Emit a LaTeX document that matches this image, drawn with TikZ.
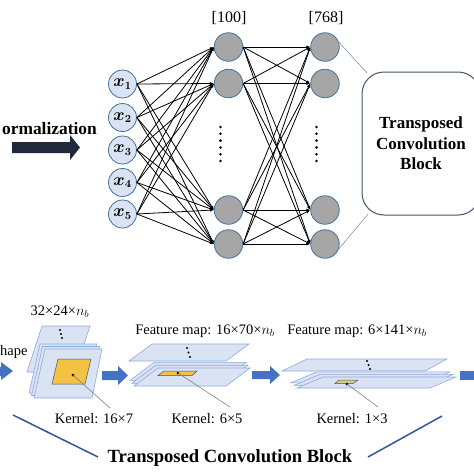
\documentclass[tikz,border=0pt]{standalone}
\usepackage{fontspec}
\setmainfont{Liberation Serif}
\usetikzlibrary{arrows.meta,calc}
\definecolor{inpfill}{HTML}{DAE3F3}
\definecolor{nodeedge}{HTML}{41719C}
\definecolor{hidfill}{HTML}{A6A6A6}
\definecolor{planefill}{HTML}{DAE3F3}
\definecolor{planeedge}{HTML}{8FAADC}
\definecolor{blockblue}{HTML}{4472C4}
\definecolor{darkarrow}{HTML}{1F2A3C}
\definecolor{boxedge}{HTML}{44546A}
\definecolor{kernfill}{HTML}{F4C243}
\definecolor{kernfilltwo}{HTML}{D8CB8E}
\definecolor{lineblue}{HTML}{2F55A4}
\definecolor{leadgray}{HTML}{808080}
\definecolor{boxlink}{HTML}{8497B0}
\tikzset{
  inp/.style={circle,draw=nodeedge,fill=inpfill,line width=0.8pt,minimum size=28pt,inner sep=0pt,font=\fontsize{16}{16}\selectfont\boldmath},
  hid/.style={circle,draw=nodeedge,fill=hidfill,line width=0.8pt,minimum size=28.5pt,inner sep=0pt},
  conn/.style={line width=0.8pt,-{Latex[length=4pt,width=3.2pt]}},
  plane/.style={fill=planefill,draw=planeedge,line width=0.6pt},
  kern/.style={fill=kernfill,draw=boxedge,line width=0.5pt},
  lbl/.style={font=\fontsize{14.5}{16}\selectfont,inner sep=0pt},
  lead/.style={draw=leadgray,line width=0.6pt},
  vdot/.style={fill=black},
}
\begin{document}
\begin{tikzpicture}[x=1pt,y=-1pt]
\useasboundingbox (0,0) rectangle (474,474);

% --- top: normalization arrow
\node[font=\fontsize{17.4}{18}\selectfont\bfseries,anchor=east,inner sep=0pt] (norm) at (97,129) {ormalization};
\fill[darkarrow] (12,142) -- (70,142) -- (70,135) -- (80,147.5) -- (70,160) -- (70,153) -- (12,153) -- cycle;

% --- input nodes
\foreach \i/\y in {1/84,2/117.5,3/150,4/182.5,5/214}
  \node[inp] (x\i) at (122.5,\y) {$x_{\i}$};

% --- hidden layers
\foreach \j/\y in {1/47,2/83.5,3/210,4/244}{
  \node[hid] (a\j) at (228.5,\y) {};
  \node[hid] (b\j) at (325,\y) {};
}
\node[font=\fontsize{16}{16}\selectfont,inner sep=0pt] (l100) at (229,18) {[100]};
\node[font=\fontsize{16}{16}\selectfont,inner sep=0pt] (l768) at (326,18) {[768]};

\foreach \i in {1,...,6}{
  \fill[vdot] (220.5,127+6.8*\i-6.8) circle[radius=1.4pt];
  \fill[vdot] (316.5,127+6.8*\i-6.8) circle[radius=1.4pt];
}

% --- connections
\foreach \i in {1,...,5}
  \foreach \j in {1,...,4}
    \draw[conn] (x\i.east) -- (a\j.west);
\foreach \i in {1,...,4}
  \foreach \j in {1,...,4}
    \draw[conn] (a\i.east) -- (b\j.west);

% --- transposed convolution block box
\node[draw=boxedge,line width=1pt,rounded corners=22pt,minimum width=118pt,minimum height=143pt,inner sep=0pt,align=center,
      font=\fontsize{17}{20.5}\selectfont\bfseries] (tcb) at (421,143.5) {Transposed\\Convolution\\Block};
\coordinate (c1) at (367,73);
\coordinate (c2) at (368,214);
\draw[draw=boxlink,line width=0.6pt] (b1.20) -- (c1);
\draw[draw=boxlink,line width=0.6pt] (b4.-20) -- (c2);

% --- bottom row
\node[lbl,anchor=west] (reshape) at (0,352) {hape};
\fill[blockblue] (-10,367) -- (1,367) -- (1,362) -- (13,371) -- (1,380) -- (1,376) -- (-10,376) -- cycle;

% stack 1
\node[lbl] (fm1) at (60,312) {32×24×$n_b$};
\filldraw[plane] (27,372) -- (75,372) -- (90,326) -- (42,326) -- cycle;
\fill[vdot] (60,330) circle[radius=1.2pt];
\fill[vdot] (61,334) circle[radius=1.2pt];
\fill[vdot] (62,338) circle[radius=1.2pt];
\foreach \d in {2,1,0}
  \filldraw[plane,shift={(-2.5*\d,-2.5*\d)}] (34,398) -- (92,398) -- (102,349) -- (45,349) -- cycle;
\filldraw[kern] (52,384) -- (85,384) -- (91,359) -- (58,359) -- cycle;
\coordinate (k1) at (73,375);
\fill (k1) circle[radius=1.5pt];
\node[lbl] (kl1) at (94,419) {Kernel: 16×7};
\coordinate (k1e) at (110,408);
\draw[lead] (k1) -- (k1e);

\fill[blockblue] (102,371) -- (118,371) -- (118,366) -- (128,375.5) -- (118,385) -- (118,380) -- (102,380) -- cycle;

% stack 2
\node[lbl] (fm2) at (205,331) {Feature map: 16×70×$n_b$};
\filldraw[plane] (129,361) -- (226,361) -- (249,344) -- (152,344) -- cycle;
\fill[vdot] (187,348) circle[radius=1.2pt];
\fill[vdot] (188.5,352.5) circle[radius=1.2pt];
\fill[vdot] (190,357) circle[radius=1.2pt];
\foreach \d in {2,1,0}
  \filldraw[plane,shift={(-2*\d,-2.8*\d)}] (134,386) -- (226,386) -- (250,368) -- (158,368) -- cycle;
\filldraw[kern] (158,375.5) -- (192,375.5) -- (197,371) -- (164,371) -- cycle;
\coordinate (k2) at (178,373);
\fill (k2) circle[radius=1.5pt];
\node[lbl] (kl2) at (207,419) {Kernel: 6×5};
\coordinate (k2e) at (230,407);
\draw[lead] (k2) -- (k2e);

\fill[blockblue] (252,371) -- (270,371) -- (270,366) -- (280,375) -- (270,384) -- (270,379) -- (252,379) -- cycle;

% stack 3
\node[lbl] (fm3) at (357,331) {Feature map: 6×141×$n_b$};
\filldraw[plane] (282,371) -- (425,371) -- (447,359) -- (307,359) -- cycle;
\fill[vdot] (367,361) circle[radius=1.2pt];
\fill[vdot] (368.5,365) circle[radius=1.2pt];
\fill[vdot] (370,369) circle[radius=1.2pt];
\foreach \d in {2,1,0}
  \filldraw[plane,shift={(-3*\d,-2.6*\d)}] (297,388) -- (430,388) -- (456,377) -- (323,377) -- cycle;
\filldraw[kern,fill=kernfilltwo] (335,383.5) -- (353,383.5) -- (358,380) -- (339,380) -- cycle;
\coordinate (k3) at (347,384);
\fill (k3) circle[radius=1.5pt];
\node[lbl] (kl3) at (352,419) {Kernel: 1×3};
\coordinate (k3e) at (378,407);
\draw[lead] (k3) -- (k3e);

\fill[blockblue] (460,371) rectangle (480,380);

% block title and bracket lines
\node[font=\fontsize{18.6}{20}\selectfont\bfseries,inner sep=0pt] (title) at (230,458) {Transposed Convolution Block};
\coordinate (bl1) at (13,415);
\coordinate (bl2) at (98,457);
\coordinate (br1) at (368,457);
\coordinate (br2) at (442,416);
\draw[lineblue,line width=1.5pt] (bl1) -- (bl2);
\draw[lineblue,line width=1.5pt] (br1) -- (br2);
\end{tikzpicture}
\end{document}
